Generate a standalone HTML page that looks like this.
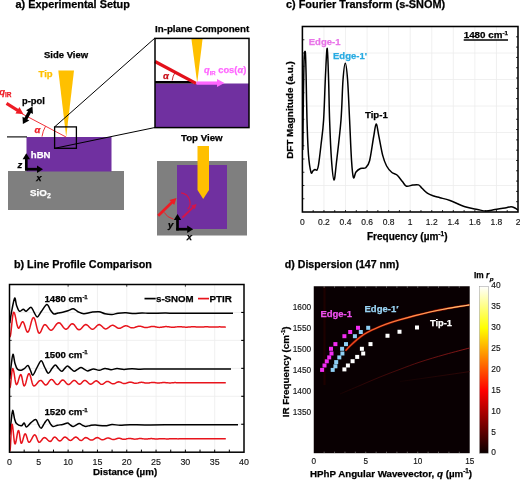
<!DOCTYPE html>
<html lang="en"><head><meta charset="utf-8"><title>Figure</title>
<style>html,body{margin:0;padding:0;background:#fff;}svg{display:block;}</style></head>
<body>
<svg width="520" height="481" viewBox="0 0 520 481" font-family='"Liberation Sans", Arial, sans-serif'>
<rect width="520" height="481" fill="#fff"/>
<defs>
<linearGradient id="hot" x1="0" y1="1" x2="0" y2="0">
<stop offset="0" stop-color="#0a0000"/><stop offset="0.375" stop-color="#ff0000"/><stop offset="0.75" stop-color="#ffff00"/><stop offset="1" stop-color="#ffffff"/>
</linearGradient>
<linearGradient id="disp" x1="345" y1="0" x2="470" y2="0" gradientUnits="userSpaceOnUse">
<stop offset="0" stop-color="#e8401a"/><stop offset="0.5" stop-color="#ff6a28"/><stop offset="1" stop-color="#ff9a3c"/>
</linearGradient>
<linearGradient id="dispcore" x1="345" y1="0" x2="470" y2="0" gradientUnits="userSpaceOnUse">
<stop offset="0" stop-color="#ffd080" stop-opacity="0"/><stop offset="0.35" stop-color="#ffd890" stop-opacity="0.5"/><stop offset="1" stop-color="#fff4c0" stop-opacity="1"/>
</linearGradient>
<linearGradient id="br2" x1="340" y1="0" x2="470" y2="0" gradientUnits="userSpaceOnUse">
<stop offset="0" stop-color="#1a0202"/><stop offset="0.4" stop-color="#4a0a0a"/><stop offset="1" stop-color="#9a1a1a"/>
</linearGradient>
<linearGradient id="br3" x1="400" y1="0" x2="470" y2="0" gradientUnits="userSpaceOnUse">
<stop offset="0" stop-color="#140202"/><stop offset="1" stop-color="#3a0808"/>
</linearGradient>
</defs>
<g id="panel-a">
<text x="15.5" y="8.3" font-size="10.9" font-weight="bold" fill="#000" stroke="#000" stroke-width="0.25" text-anchor="start" >a) Experimental Setup</text>
<text x="44" y="57.5" font-size="9.5" font-weight="bold" fill="#000" stroke="#000" stroke-width="0.25" text-anchor="start" >Side View</text>
<text x="38.6" y="76.6" font-size="9.5" font-weight="bold" fill="#ffc000" stroke="#ffc000" stroke-width="0.25" text-anchor="start" >Tip</text>
<rect x="8" y="171" width="116" height="39" fill="#7f7f7f"/>
<rect x="26.5" y="137" width="85" height="34.5" fill="#7030a0"/>
<line x1="7" y1="136.9" x2="27" y2="136.9" stroke="#000" stroke-width="1.1"/>
<polygon points="58.3,70.5 74,70.5 66.2,137" fill="#ffc000"/>
<line x1="20" y1="112.7" x2="66" y2="137" stroke="#ee1c25" stroke-width="0.9"/>
<line x1="6.50" y1="103.40" x2="18.05" y2="110.58" stroke="#ee1c25" stroke-width="3.1"/>
<polygon points="23.40,113.90 15.45,113.43 19.46,106.98" fill="#ee1c25"/>
<text x="-0.8" y="95.2" font-size="9.5" font-weight="bold" fill="#ee1c25" stroke="#ee1c25" stroke-width="0.25" text-anchor="start" ><tspan font-style="italic">q</tspan><tspan font-size="6.5" dy="2">IR</tspan></text>
<text x="22" y="104" font-size="9.4" font-weight="bold" fill="#000" stroke="#000" stroke-width="0.25" text-anchor="start" >p-pol</text>
<line x1="29.80" y1="111.49" x2="25.60" y2="119.11" stroke="#000" stroke-width="3.3"/>
<polygon points="22.90,124.00 22.48,116.69 29.31,120.46" fill="#000"/>
<polygon points="32.50,106.60 26.09,110.14 32.92,113.91" fill="#000"/>
<text x="34.5" y="132.5" font-size="9.5" font-weight="bold" fill="#ee1c25" stroke="#ee1c25" stroke-width="0.25" text-anchor="start" font-style="italic">α</text>
<path d="M45.5,126.3 Q42.8,131 42,136.6" fill="none" stroke="#ee1c25" stroke-width="0.9"/>
<rect x="54.6" y="126.9" width="21.8" height="21.4" fill="none" stroke="#000" stroke-width="1.3"/>
<line x1="54.6" y1="126.9" x2="155" y2="38" stroke="#000" stroke-width="1"/>
<line x1="54.6" y1="148.3" x2="155" y2="127.5" stroke="#000" stroke-width="1"/>
<text x="30.8" y="158.4" font-size="9.6" font-weight="bold" fill="#fff" stroke="#fff" stroke-width="0.25" text-anchor="start" >hBN</text>
<text x="30" y="196.2" font-size="9.8" font-weight="bold" fill="#fff" stroke="#fff" stroke-width="0.25" text-anchor="start" >SiO<tspan font-size="6.8" dy="2.2">2</tspan></text>
<line x1="26.30" y1="170.50" x2="26.30" y2="158.60" stroke="#000" stroke-width="2.7"/>
<polygon points="26.30,153.20 30.00,159.20 22.60,159.20" fill="#000"/>
<line x1="25.00" y1="169.20" x2="37.60" y2="169.20" stroke="#000" stroke-width="2.7"/>
<polygon points="43.00,169.20 37.00,172.90 37.00,165.50" fill="#000"/>
<text x="17.5" y="167.7" font-size="9.5" font-weight="bold" fill="#000" stroke="#000" stroke-width="0.25" text-anchor="start" font-style="italic">z</text>
<text x="36.2" y="180.6" font-size="9.5" font-weight="bold" fill="#000" stroke="#000" stroke-width="0.25" text-anchor="start" font-style="italic">x</text>
<text x="155" y="32.3" font-size="9.75" font-weight="bold" fill="#000" stroke="#000" stroke-width="0.25" text-anchor="start" >In-plane Component</text>
<rect x="155" y="38" width="94" height="45" fill="#fff"/>
<rect x="155" y="83.5" width="94" height="44" fill="#7030a0"/>
<polygon points="191.3,38 202.7,38 197.2,83" fill="#ffc000"/>
<line x1="155" y1="82.3" x2="193" y2="82.3" stroke="#000" stroke-width="2.6"/>
<line x1="155" y1="61.5" x2="196" y2="83.3" stroke="#e3101b" stroke-width="3.2"/>
<line x1="196.50" y1="83.10" x2="217.75" y2="83.10" stroke="#ff66ff" stroke-width="3.3"/>
<polygon points="224.50,83.10 217.00,87.10 217.00,79.10" fill="#ff66ff"/>
<rect x="155" y="38.4" width="94" height="89.2" fill="none" stroke="#000" stroke-width="1.5"/>
<text x="163" y="78.8" font-size="9.5" font-weight="bold" fill="#c8101a" stroke="#c8101a" stroke-width="0.25" text-anchor="start" font-style="italic">α</text>
<path d="M175.3,72.2 Q172.6,76 172.2,80.5" fill="none" stroke="#c8101a" stroke-width="0.9"/>
<text x="204" y="73.4" font-size="9.3" font-weight="bold" fill="#ff66ff" stroke="#ff66ff" stroke-width="0.25" text-anchor="start" ><tspan font-style="italic">q</tspan><tspan font-size="6" dy="1.5">IR</tspan><tspan dy="-1.5"> cos(</tspan><tspan font-style="italic">α</tspan>)</text>
<text x="181" y="141" font-size="9.7" font-weight="bold" fill="#000" stroke="#000" stroke-width="0.25" text-anchor="start" >Top View</text>
<rect x="157" y="161" width="90" height="74.5" fill="#7f7f7f"/>
<rect x="177" y="165" width="50" height="64" fill="#7030a0"/>
<polygon points="197.5,146 209,146 209,190 203.2,199 197.5,190" fill="#ffc000"/>
<line x1="158.20" y1="215.70" x2="172.30" y2="202.07" stroke="#ee1c25" stroke-width="2.7"/>
<polygon points="176.50,198.00 174.19,204.96 169.46,200.08" fill="#ee1c25"/>
<path d="M164.1,212.3 Q167,217.5 173.5,219.2" fill="none" stroke="#ee1c25" stroke-width="0.9"/>
<line x1="182.30" y1="217.70" x2="193.35" y2="207.11" stroke="#d4144a" stroke-width="1.9"/>
<polygon points="196.60,204.00 194.79,209.34 191.19,205.58" fill="#d4144a"/>
<path d="M181,192.8 Q187.5,193.5 189.6,200 Q191.3,206 187.7,209" fill="none" stroke="#d4144a" stroke-width="1.2"/>
<line x1="177.50" y1="230.50" x2="177.50" y2="219.40" stroke="#000" stroke-width="2.7"/>
<polygon points="177.50,214.00 181.20,220.00 173.80,220.00" fill="#000"/>
<line x1="176.20" y1="229.20" x2="187.80" y2="229.20" stroke="#000" stroke-width="2.7"/>
<polygon points="193.20,229.20 187.20,232.90 187.20,225.50" fill="#000"/>
<text x="168" y="227.6" font-size="9.5" font-weight="bold" fill="#000" stroke="#000" stroke-width="0.25" text-anchor="start" font-style="italic">y</text>
<text x="186.8" y="240.3" font-size="9.5" font-weight="bold" fill="#000" stroke="#000" stroke-width="0.25" text-anchor="start" font-style="italic">x</text>
</g>
<g id="panel-c">
<text x="286" y="8.3" font-size="10.9" font-weight="bold" fill="#000" stroke="#000" stroke-width="0.25" text-anchor="start" >c) Fourier Transform (s-SNOM)</text>
<line x1="323.96" y1="26.5" x2="323.96" y2="212" stroke="#ececec" stroke-width="0.8"/>
<line x1="345.52" y1="26.5" x2="345.52" y2="212" stroke="#ececec" stroke-width="0.8"/>
<line x1="367.08" y1="26.5" x2="367.08" y2="212" stroke="#ececec" stroke-width="0.8"/>
<line x1="388.64" y1="26.5" x2="388.64" y2="212" stroke="#ececec" stroke-width="0.8"/>
<line x1="410.20" y1="26.5" x2="410.20" y2="212" stroke="#ececec" stroke-width="0.8"/>
<line x1="431.76" y1="26.5" x2="431.76" y2="212" stroke="#ececec" stroke-width="0.8"/>
<line x1="453.32" y1="26.5" x2="453.32" y2="212" stroke="#ececec" stroke-width="0.8"/>
<line x1="474.88" y1="26.5" x2="474.88" y2="212" stroke="#ececec" stroke-width="0.8"/>
<line x1="496.44" y1="26.5" x2="496.44" y2="212" stroke="#ececec" stroke-width="0.8"/>
<line x1="302.4" y1="53.00" x2="518" y2="53.00" stroke="#ececec" stroke-width="0.8"/>
<line x1="302.4" y1="79.50" x2="518" y2="79.50" stroke="#ececec" stroke-width="0.8"/>
<line x1="302.4" y1="106.00" x2="518" y2="106.00" stroke="#ececec" stroke-width="0.8"/>
<line x1="302.4" y1="132.50" x2="518" y2="132.50" stroke="#ececec" stroke-width="0.8"/>
<line x1="302.4" y1="159.00" x2="518" y2="159.00" stroke="#ececec" stroke-width="0.8"/>
<line x1="302.4" y1="185.50" x2="518" y2="185.50" stroke="#ececec" stroke-width="0.8"/>
<line x1="313.18" y1="212" x2="313.18" y2="210" stroke="#000" stroke-width="0.8"/>
<line x1="323.96" y1="212" x2="323.96" y2="210" stroke="#000" stroke-width="0.8"/>
<line x1="334.74" y1="212" x2="334.74" y2="210" stroke="#000" stroke-width="0.8"/>
<line x1="345.52" y1="212" x2="345.52" y2="210" stroke="#000" stroke-width="0.8"/>
<line x1="356.30" y1="212" x2="356.30" y2="210" stroke="#000" stroke-width="0.8"/>
<line x1="367.08" y1="212" x2="367.08" y2="210" stroke="#000" stroke-width="0.8"/>
<line x1="377.86" y1="212" x2="377.86" y2="210" stroke="#000" stroke-width="0.8"/>
<line x1="388.64" y1="212" x2="388.64" y2="210" stroke="#000" stroke-width="0.8"/>
<line x1="399.42" y1="212" x2="399.42" y2="210" stroke="#000" stroke-width="0.8"/>
<line x1="410.20" y1="212" x2="410.20" y2="210" stroke="#000" stroke-width="0.8"/>
<line x1="420.98" y1="212" x2="420.98" y2="210" stroke="#000" stroke-width="0.8"/>
<line x1="431.76" y1="212" x2="431.76" y2="210" stroke="#000" stroke-width="0.8"/>
<line x1="442.54" y1="212" x2="442.54" y2="210" stroke="#000" stroke-width="0.8"/>
<line x1="453.32" y1="212" x2="453.32" y2="210" stroke="#000" stroke-width="0.8"/>
<line x1="464.10" y1="212" x2="464.10" y2="210" stroke="#000" stroke-width="0.8"/>
<line x1="474.88" y1="212" x2="474.88" y2="210" stroke="#000" stroke-width="0.8"/>
<line x1="485.66" y1="212" x2="485.66" y2="210" stroke="#000" stroke-width="0.8"/>
<line x1="496.44" y1="212" x2="496.44" y2="210" stroke="#000" stroke-width="0.8"/>
<line x1="507.22" y1="212" x2="507.22" y2="210" stroke="#000" stroke-width="0.8"/>
<line x1="518" y1="36.81" x2="516" y2="36.81" stroke="#000" stroke-width="0.8"/>
<line x1="518" y1="47.11" x2="516" y2="47.11" stroke="#000" stroke-width="0.8"/>
<line x1="518" y1="57.42" x2="516" y2="57.42" stroke="#000" stroke-width="0.8"/>
<line x1="518" y1="67.72" x2="516" y2="67.72" stroke="#000" stroke-width="0.8"/>
<line x1="518" y1="78.03" x2="516" y2="78.03" stroke="#000" stroke-width="0.8"/>
<line x1="518" y1="88.33" x2="516" y2="88.33" stroke="#000" stroke-width="0.8"/>
<line x1="518" y1="98.64" x2="516" y2="98.64" stroke="#000" stroke-width="0.8"/>
<line x1="518" y1="108.94" x2="516" y2="108.94" stroke="#000" stroke-width="0.8"/>
<line x1="518" y1="119.25" x2="516" y2="119.25" stroke="#000" stroke-width="0.8"/>
<line x1="518" y1="129.56" x2="516" y2="129.56" stroke="#000" stroke-width="0.8"/>
<line x1="518" y1="139.86" x2="516" y2="139.86" stroke="#000" stroke-width="0.8"/>
<line x1="518" y1="150.17" x2="516" y2="150.17" stroke="#000" stroke-width="0.8"/>
<line x1="518" y1="160.47" x2="516" y2="160.47" stroke="#000" stroke-width="0.8"/>
<line x1="518" y1="170.78" x2="516" y2="170.78" stroke="#000" stroke-width="0.8"/>
<line x1="518" y1="181.08" x2="516" y2="181.08" stroke="#000" stroke-width="0.8"/>
<line x1="518" y1="191.39" x2="516" y2="191.39" stroke="#000" stroke-width="0.8"/>
<line x1="518" y1="201.69" x2="516" y2="201.69" stroke="#000" stroke-width="0.8"/>
<line x1="302.4" y1="39.75" x2="304.4" y2="39.75" stroke="#000" stroke-width="0.8"/>
<line x1="302.4" y1="53.00" x2="304.4" y2="53.00" stroke="#000" stroke-width="0.8"/>
<line x1="302.4" y1="66.25" x2="304.4" y2="66.25" stroke="#000" stroke-width="0.8"/>
<line x1="302.4" y1="79.50" x2="304.4" y2="79.50" stroke="#000" stroke-width="0.8"/>
<line x1="302.4" y1="92.75" x2="304.4" y2="92.75" stroke="#000" stroke-width="0.8"/>
<line x1="302.4" y1="106.00" x2="304.4" y2="106.00" stroke="#000" stroke-width="0.8"/>
<line x1="302.4" y1="119.25" x2="304.4" y2="119.25" stroke="#000" stroke-width="0.8"/>
<line x1="302.4" y1="132.50" x2="304.4" y2="132.50" stroke="#000" stroke-width="0.8"/>
<line x1="302.4" y1="145.75" x2="304.4" y2="145.75" stroke="#000" stroke-width="0.8"/>
<line x1="302.4" y1="159.00" x2="304.4" y2="159.00" stroke="#000" stroke-width="0.8"/>
<line x1="302.4" y1="172.25" x2="304.4" y2="172.25" stroke="#000" stroke-width="0.8"/>
<line x1="302.4" y1="185.50" x2="304.4" y2="185.50" stroke="#000" stroke-width="0.8"/>
<line x1="302.4" y1="198.75" x2="304.4" y2="198.75" stroke="#000" stroke-width="0.8"/>
<path d="M302.80,150.00C302.90,140.83 303.20,109.67 303.40,95.00C303.60,80.33 303.82,68.97 304.00,62.00C304.18,55.03 304.33,54.93 304.50,53.20C304.67,51.47 304.83,51.38 305.00,51.60C305.17,51.82 305.32,50.60 305.50,54.50C305.68,58.40 305.85,64.08 306.10,75.00C306.35,85.92 306.60,106.67 307.00,120.00C307.40,133.33 307.83,146.28 308.50,155.00C309.17,163.72 310.25,169.67 311.00,172.30C311.75,174.93 312.33,171.27 313.00,170.80C313.67,170.33 314.33,169.63 315.00,169.50C315.67,169.37 316.42,170.75 317.00,170.00C317.58,169.25 317.83,169.17 318.50,165.00C319.17,160.83 320.15,152.50 321.00,145.00C321.85,137.50 322.85,131.67 323.60,120.00C324.35,108.33 324.90,86.93 325.50,75.00C326.10,63.07 326.68,47.57 327.20,48.40C327.72,49.23 328.20,68.07 328.60,80.00C329.00,91.93 329.12,106.67 329.60,120.00C330.08,133.33 330.77,150.00 331.50,160.00C332.23,170.00 333.17,179.67 334.00,180.00C334.83,180.33 335.33,172.00 336.50,162.00C337.67,152.00 339.92,133.67 341.00,120.00C342.08,106.33 342.28,89.47 343.00,80.00C343.72,70.53 344.53,63.20 345.30,63.20C346.07,63.20 346.88,70.53 347.60,80.00C348.32,89.47 348.95,106.67 349.60,120.00C350.25,133.33 350.87,150.42 351.50,160.00C352.13,169.58 352.65,175.50 353.40,177.50C354.15,179.50 354.82,173.50 356.00,172.00C357.18,170.50 358.88,169.22 360.50,168.50C362.12,167.78 364.18,169.00 365.70,167.70C367.22,166.40 368.28,165.82 369.60,160.70C370.92,155.58 372.50,143.12 373.60,137.00C374.70,130.88 375.33,124.20 376.20,124.00C377.07,123.80 377.72,130.57 378.80,135.80C379.88,141.03 381.40,150.37 382.70,155.40C384.00,160.43 385.07,163.15 386.60,166.00C388.13,168.85 390.17,171.00 391.90,172.50C393.63,174.00 395.25,173.48 397.00,175.00C398.75,176.52 400.82,179.73 402.40,181.60C403.98,183.47 404.77,185.63 406.50,186.20C408.23,186.77 410.80,185.22 412.80,185.00C414.80,184.78 416.97,184.37 418.50,184.90C420.03,185.43 420.53,186.82 422.00,188.20C423.47,189.58 425.33,191.90 427.30,193.20C429.27,194.50 431.68,195.25 433.80,196.00C435.92,196.75 437.30,196.95 440.00,197.70C442.70,198.45 445.83,198.99 450.00,200.50C454.17,202.01 460.42,205.25 465.00,206.75C469.58,208.25 474.00,208.79 477.50,209.50C481.00,210.21 483.08,211.00 486.00,211.00C488.92,211.00 491.83,210.00 495.00,209.50C498.17,209.00 502.33,208.46 505.00,208.00C507.67,207.54 509.33,206.75 511.00,206.75C512.67,206.75 513.83,207.46 515.00,208.00C516.17,208.54 517.50,209.67 518.00,210.00" fill="none" stroke="#000" stroke-width="1.5" stroke-linejoin="round"/>
<rect x="302.4" y="26.5" width="215.60000000000002" height="185.5" fill="none" stroke="#000" stroke-width="1.55"/>
<text x="302.40" y="225.2" font-size="8.5" font-weight="normal" fill="#151515" stroke="#151515" stroke-width="0.15" text-anchor="middle" >0</text>
<text x="323.96" y="225.2" font-size="8.5" font-weight="normal" fill="#151515" stroke="#151515" stroke-width="0.15" text-anchor="middle" >0.2</text>
<text x="345.52" y="225.2" font-size="8.5" font-weight="normal" fill="#151515" stroke="#151515" stroke-width="0.15" text-anchor="middle" >0.4</text>
<text x="367.08" y="225.2" font-size="8.5" font-weight="normal" fill="#151515" stroke="#151515" stroke-width="0.15" text-anchor="middle" >0.6</text>
<text x="388.64" y="225.2" font-size="8.5" font-weight="normal" fill="#151515" stroke="#151515" stroke-width="0.15" text-anchor="middle" >0.8</text>
<text x="410.20" y="225.2" font-size="8.5" font-weight="normal" fill="#151515" stroke="#151515" stroke-width="0.15" text-anchor="middle" >1</text>
<text x="431.76" y="225.2" font-size="8.5" font-weight="normal" fill="#151515" stroke="#151515" stroke-width="0.15" text-anchor="middle" >1.2</text>
<text x="453.32" y="225.2" font-size="8.5" font-weight="normal" fill="#151515" stroke="#151515" stroke-width="0.15" text-anchor="middle" >1.4</text>
<text x="474.88" y="225.2" font-size="8.5" font-weight="normal" fill="#151515" stroke="#151515" stroke-width="0.15" text-anchor="middle" >1.6</text>
<text x="496.44" y="225.2" font-size="8.5" font-weight="normal" fill="#151515" stroke="#151515" stroke-width="0.15" text-anchor="middle" >1.8</text>
<text x="518.00" y="225.2" font-size="8.5" font-weight="normal" fill="#151515" stroke="#151515" stroke-width="0.15" text-anchor="middle" >2</text>
<text x="367" y="239.8" font-size="10" font-weight="bold" fill="#000" stroke="#000" stroke-width="0.25" text-anchor="start" >Frequency (µm<tspan font-size="6.5" dy="-3.5">-1</tspan><tspan dy="3.5">)</tspan></text>
<text transform="translate(293,110) rotate(-90)" font-size="9.9" font-weight="bold" stroke="#000" stroke-width="0.25" text-anchor="middle">DFT Magnitude (a.u.)</text>
<text x="308.75" y="45.2" font-size="9.5" font-weight="bold" fill="#e873e8" stroke="#e873e8" stroke-width="0.25" text-anchor="start" >Edge-1</text>
<text x="333" y="58.5" font-size="9.5" font-weight="bold" fill="#29abe2" stroke="#29abe2" stroke-width="0.25" text-anchor="start" >Edge-1'</text>
<text x="365" y="118" font-size="9.6" font-weight="bold" fill="#000" stroke="#000" stroke-width="0.25" text-anchor="start" >Tip-1</text>
<text x="463.7" y="38" font-size="9.8" font-weight="bold" fill="#000" stroke="#000" stroke-width="0.25" text-anchor="start" >1480 cm<tspan font-size="6.2" dy="-3.3">-1</tspan></text>
<line x1="463.7" y1="40" x2="508" y2="40" stroke="#000" stroke-width="1.3"/>
</g>
<g id="panel-b">
<text x="13.9" y="267.8" font-size="10.8" font-weight="bold" fill="#000" stroke="#000" stroke-width="0.25" text-anchor="start" >b) Line Profile Comparison</text>
<line x1="38.81" y1="284.5" x2="38.81" y2="452.2" stroke="#ececec" stroke-width="0.8"/>
<line x1="68.12" y1="284.5" x2="68.12" y2="452.2" stroke="#ececec" stroke-width="0.8"/>
<line x1="97.44" y1="284.5" x2="97.44" y2="452.2" stroke="#ececec" stroke-width="0.8"/>
<line x1="126.75" y1="284.5" x2="126.75" y2="452.2" stroke="#ececec" stroke-width="0.8"/>
<line x1="156.06" y1="284.5" x2="156.06" y2="452.2" stroke="#ececec" stroke-width="0.8"/>
<line x1="185.38" y1="284.5" x2="185.38" y2="452.2" stroke="#ececec" stroke-width="0.8"/>
<line x1="214.69" y1="284.5" x2="214.69" y2="452.2" stroke="#ececec" stroke-width="0.8"/>
<line x1="9.5" y1="312.45" x2="244" y2="312.45" stroke="#ececec" stroke-width="0.8"/>
<line x1="9.5" y1="340.40" x2="244" y2="340.40" stroke="#ececec" stroke-width="0.8"/>
<line x1="9.5" y1="368.35" x2="244" y2="368.35" stroke="#ececec" stroke-width="0.8"/>
<line x1="9.5" y1="396.30" x2="244" y2="396.30" stroke="#ececec" stroke-width="0.8"/>
<line x1="9.5" y1="424.25" x2="244" y2="424.25" stroke="#ececec" stroke-width="0.8"/>
<line x1="24.16" y1="452.2" x2="24.16" y2="449.59999999999997" stroke="#000" stroke-width="1"/>
<line x1="38.81" y1="452.2" x2="38.81" y2="449.59999999999997" stroke="#000" stroke-width="1"/>
<line x1="53.47" y1="452.2" x2="53.47" y2="449.59999999999997" stroke="#000" stroke-width="1"/>
<line x1="68.12" y1="452.2" x2="68.12" y2="449.59999999999997" stroke="#000" stroke-width="1"/>
<line x1="82.78" y1="452.2" x2="82.78" y2="449.59999999999997" stroke="#000" stroke-width="1"/>
<line x1="97.44" y1="452.2" x2="97.44" y2="449.59999999999997" stroke="#000" stroke-width="1"/>
<line x1="112.09" y1="452.2" x2="112.09" y2="449.59999999999997" stroke="#000" stroke-width="1"/>
<line x1="126.75" y1="452.2" x2="126.75" y2="449.59999999999997" stroke="#000" stroke-width="1"/>
<line x1="141.41" y1="452.2" x2="141.41" y2="449.59999999999997" stroke="#000" stroke-width="1"/>
<line x1="156.06" y1="452.2" x2="156.06" y2="449.59999999999997" stroke="#000" stroke-width="1"/>
<line x1="170.72" y1="452.2" x2="170.72" y2="449.59999999999997" stroke="#000" stroke-width="1"/>
<line x1="185.38" y1="452.2" x2="185.38" y2="449.59999999999997" stroke="#000" stroke-width="1"/>
<line x1="200.03" y1="452.2" x2="200.03" y2="449.59999999999997" stroke="#000" stroke-width="1"/>
<line x1="214.69" y1="452.2" x2="214.69" y2="449.59999999999997" stroke="#000" stroke-width="1"/>
<line x1="229.34" y1="452.2" x2="229.34" y2="449.59999999999997" stroke="#000" stroke-width="1"/>
<line x1="68.12" y1="284.5" x2="68.12" y2="286.7" stroke="#000" stroke-width="0.8"/>
<line x1="126.75" y1="284.5" x2="126.75" y2="286.7" stroke="#000" stroke-width="0.8"/>
<line x1="185.38" y1="284.5" x2="185.38" y2="286.7" stroke="#000" stroke-width="0.8"/>
<line x1="244" y1="312.45" x2="241.2" y2="312.45" stroke="#000" stroke-width="1.1"/>
<line x1="244" y1="340.40" x2="241.2" y2="340.40" stroke="#000" stroke-width="1.1"/>
<line x1="244" y1="368.35" x2="241.2" y2="368.35" stroke="#000" stroke-width="1.1"/>
<line x1="244" y1="396.30" x2="241.2" y2="396.30" stroke="#000" stroke-width="1.1"/>
<line x1="244" y1="424.25" x2="241.2" y2="424.25" stroke="#000" stroke-width="1.1"/>
<line x1="9.5" y1="340.40" x2="11.7" y2="340.40" stroke="#000" stroke-width="0.8"/>
<line x1="9.5" y1="396.30" x2="11.7" y2="396.30" stroke="#000" stroke-width="0.8"/>
<path transform="translate(0,0.2)" d="M9.80,323.00C10.08,321.17 10.70,316.17 11.50,312.00C12.30,307.83 13.77,299.17 14.60,298.00C15.43,296.83 15.70,302.83 16.50,305.00C17.30,307.17 18.27,310.33 19.40,311.00C20.53,311.67 22.17,309.00 23.30,309.00C24.43,309.00 24.92,311.33 26.20,311.00C27.48,310.67 29.70,306.83 31.00,307.00C32.30,307.17 32.95,310.38 34.00,312.00C35.05,313.62 36.05,316.87 37.30,316.70C38.55,316.53 39.90,313.08 41.50,311.00C43.10,308.92 45.40,304.37 46.90,304.20C48.40,304.03 49.32,308.40 50.50,310.00C51.68,311.60 52.75,313.33 54.00,313.80C55.25,314.27 56.55,313.10 58.00,312.80C59.45,312.50 61.03,312.38 62.70,312.00C64.37,311.62 66.23,311.08 68.00,310.50C69.77,309.92 71.63,308.33 73.30,308.50C74.97,308.67 76.25,310.67 78.00,311.50C79.75,312.33 81.55,313.42 83.80,313.50C86.05,313.58 88.97,312.33 91.50,312.00C94.03,311.67 96.75,311.23 99.00,311.50C101.25,311.77 102.83,313.13 105.00,313.60C107.17,314.07 109.83,314.40 112.00,314.30C114.17,314.20 115.67,313.28 118.00,313.00C120.33,312.72 123.33,312.55 126.00,312.60C128.67,312.65 131.33,313.27 134.00,313.30C136.67,313.33 139.33,312.83 142.00,312.80C144.67,312.77 146.17,313.08 150.00,313.10C153.83,313.12 160.00,312.92 165.00,312.90C170.00,312.88 168.67,312.98 180.00,313.00C191.33,313.02 224.17,313.00 233.00,313.00" fill="none" stroke="#000" stroke-width="1.5" stroke-linejoin="round" stroke-linecap="butt"/>
<path transform="translate(0,0.2)" d="M9.80,337.00L10.29,336.05L10.78,333.34L11.26,329.28L11.75,324.50L12.24,319.72L12.72,315.66L13.21,312.95L13.70,312.00L14.30,312.61L14.90,314.34L15.50,316.94L16.10,320.00L16.70,323.06L17.30,325.66L17.90,327.39L18.50,328.00L19.02,327.75L19.55,327.05L20.07,325.99L20.60,324.75L21.12,323.51L21.65,322.45L22.18,321.75L22.70,321.50L23.32,321.90L23.95,323.04L24.57,324.74L25.20,326.75L25.82,328.76L26.45,330.46L27.07,331.60L27.70,332.00L28.43,331.44L29.15,329.85L29.88,327.46L30.60,324.65L31.32,321.84L32.05,319.45L32.77,317.86L33.50,317.30L34.21,317.90L34.92,319.60L35.64,322.15L36.35,325.15L37.06,328.15L37.78,330.70L38.49,332.40L39.20,333.00L39.90,332.67L40.60,331.74L41.30,330.35L42.00,328.70L42.70,327.05L43.40,325.66L44.10,324.73L44.80,324.40L45.57,324.61L46.35,325.22L47.12,326.13L47.90,327.20L48.67,328.27L49.45,329.18L50.23,329.79L51.00,330.00L51.98,329.71L52.95,328.90L53.92,327.69L54.90,326.25L55.88,324.81L56.85,323.60L57.82,322.79L58.80,322.50L59.70,322.75L60.60,323.45L61.50,324.51L62.40,325.75L63.30,326.99L64.20,328.05L65.10,328.75L66.00,329.00L66.79,328.79L67.58,328.19L68.36,327.30L69.15,326.25L69.94,325.20L70.72,324.31L71.51,323.71L72.30,323.50L73.14,323.73L73.97,324.39L74.81,325.38L75.65,326.55L76.49,327.72L77.33,328.71L78.16,329.37L79.00,329.60L79.85,329.40L80.70,328.84L81.55,327.99L82.40,327.00L83.25,326.01L84.10,325.16L84.95,324.60L85.80,324.40L86.64,324.58L87.47,325.07L88.31,325.82L89.15,326.70L89.99,327.58L90.83,328.33L91.66,328.82L92.50,329.00L93.34,328.82L94.17,328.33L95.01,327.58L95.85,326.70L96.69,325.82L97.53,325.07L98.36,324.58L99.20,324.40L100.00,324.61L100.80,325.11L101.60,325.80L102.40,326.60L103.20,327.38L104.00,328.04L104.80,328.50L105.60,328.70L106.40,328.62L107.20,328.29L108.00,327.77L108.80,327.13L109.60,326.46L110.40,325.87L111.20,325.42L112.00,325.17L112.80,325.15L113.60,325.34L114.40,325.73L115.20,326.23L116.00,326.78L116.80,327.31L117.60,327.73L118.40,328.01L119.20,328.10L120.00,328.00L120.80,327.73L121.60,327.35L122.40,326.89L123.20,326.44L124.00,326.05L124.80,325.77L125.60,325.64L126.40,325.67L127.20,325.84L128.00,326.13L128.80,326.49L129.60,326.87L130.40,327.22L131.20,327.49L132.00,327.64L132.80,327.67L133.60,327.57L134.40,327.37L135.20,327.09L136.00,326.77L136.80,326.47L137.60,326.21L138.40,326.04L139.20,325.98L140.00,326.02L140.80,326.16L141.60,326.38L142.40,326.63L143.20,326.89L144.00,327.12L144.80,327.29L145.60,327.38L146.40,327.38L147.20,327.29L148.00,327.13L148.80,326.93L149.60,326.71L150.40,326.51L151.20,326.34L152.00,326.25L152.80,326.22L153.60,326.27L154.40,326.38L155.20,326.54L156.00,326.72L156.80,326.89L157.60,327.04L158.40,327.14L159.20,327.19L160.00,327.17L160.80,327.10L161.60,326.98L162.40,326.84L163.20,326.69L164.00,326.55L164.80,326.45L165.60,326.39L166.40,326.39L167.20,326.43L168.00,326.52L168.80,326.63L169.60,326.76L170.40,326.88L171.20,326.97L172.00,327.03L172.80,327.05L173.60,327.03L174.40,326.97L175.20,326.88L176.00,326.78L176.80,326.68L177.60,326.59L178.40,326.53L179.20,326.50L180.00,326.51L180.80,326.54L181.60,326.61L182.40,326.69L183.20,326.78L184.00,326.86L184.80,326.92L185.60,326.95L186.40,326.96L187.20,326.94L188.00,326.89L188.80,326.83L189.60,326.75L190.40,326.69L191.20,326.63L192.00,326.59L192.80,326.58L193.60,326.59L194.40,326.62L195.20,326.67L196.00,326.72L196.80,326.78L197.60,326.83L198.40,326.87L199.20,326.89L200.00,326.89L200.80,326.87L201.60,326.84L202.40,326.79L203.20,326.74L204.00,326.69L204.80,326.66L205.60,326.64L206.40,326.63L207.20,326.64L208.00,326.67L208.80,326.70L209.60,326.74L210.40,326.78L211.20,326.82L212.00,326.84L212.80,326.85L213.60,326.85L214.40,326.83L215.20,326.80L216.00,326.77L216.80,326.74L217.60,326.70L218.40,326.68L219.20,326.67L220.00,326.67L220.80,326.68L221.60,326.70L222.40,326.72L223.20,326.75L224.00,326.78L224.80,326.80L225.60,326.81L225.80,326.75" fill="none" stroke="#e8141c" stroke-width="1.5" stroke-linejoin="round" stroke-linecap="butt"/>
<path transform="translate(0,0.5)" d="M9.80,378.50C10.05,376.08 10.77,368.12 11.30,364.00C11.83,359.88 12.38,353.97 13.00,353.80C13.62,353.63 14.25,360.50 15.00,363.00C15.75,365.50 16.45,367.67 17.50,368.80C18.55,369.93 20.13,369.93 21.30,369.80C22.47,369.67 23.38,368.80 24.50,368.00C25.62,367.20 27.00,364.67 28.00,365.00C29.00,365.33 29.68,368.40 30.50,370.00C31.32,371.60 31.82,375.10 32.90,374.60C33.98,374.10 35.62,369.40 37.00,367.00C38.38,364.60 39.90,360.20 41.20,360.20C42.50,360.20 43.62,364.92 44.80,367.00C45.98,369.08 47.10,372.53 48.30,372.70C49.50,372.87 50.82,369.35 52.00,368.00C53.18,366.65 54.32,364.60 55.40,364.60C56.48,364.60 57.45,366.97 58.50,368.00C59.55,369.03 60.68,370.80 61.70,370.80C62.72,370.80 63.63,368.90 64.60,368.00C65.57,367.10 66.43,365.35 67.50,365.40C68.57,365.45 69.88,367.40 71.00,368.30C72.12,369.20 73.10,370.72 74.20,370.80C75.30,370.88 76.47,369.43 77.60,368.80C78.73,368.17 79.85,367.00 81.00,367.00C82.15,367.00 83.38,368.23 84.50,368.80C85.62,369.37 86.20,370.45 87.70,370.40C89.20,370.35 91.58,368.60 93.50,368.50C95.42,368.40 97.28,369.90 99.20,369.80C101.12,369.70 103.03,368.00 105.00,367.90C106.97,367.80 109.00,369.18 111.00,369.20C113.00,369.22 114.83,368.05 117.00,368.00C119.17,367.95 121.50,368.87 124.00,368.90C126.50,368.93 129.33,368.23 132.00,368.20C134.67,368.17 137.00,368.67 140.00,368.70C143.00,368.73 145.00,368.43 150.00,368.40C155.00,368.37 156.50,368.48 170.00,368.50C183.50,368.52 220.83,368.50 231.00,368.50" fill="none" stroke="#000" stroke-width="1.5" stroke-linejoin="round" stroke-linecap="butt"/>
<path transform="translate(0,0)" d="M9.80,388.00L10.16,387.26L10.53,385.14L10.89,381.98L11.25,378.25L11.61,374.52L11.97,371.36L12.34,369.24L12.70,368.50L13.17,369.11L13.65,370.86L14.12,373.47L14.60,376.55L15.07,379.63L15.55,382.24L16.02,383.99L16.50,384.60L17.04,384.22L17.57,383.14L18.11,381.51L18.65,379.60L19.19,377.69L19.73,376.06L20.26,374.98L20.80,374.60L21.23,375.03L21.65,376.27L22.07,378.12L22.50,380.30L22.93,382.48L23.35,384.33L23.77,385.57L24.20,386.00L24.80,385.53L25.40,384.20L26.00,382.20L26.60,379.85L27.20,377.50L27.80,375.50L28.40,374.17L29.00,373.70L29.60,374.17L30.20,375.50L30.80,377.50L31.40,379.85L32.00,382.20L32.60,384.20L33.20,385.53L33.80,386.00L34.65,385.79L35.50,385.18L36.35,384.27L37.20,383.20L38.05,382.13L38.90,381.22L39.75,380.61L40.60,380.40L41.25,380.58L41.90,381.07L42.55,381.82L43.20,382.70L43.85,383.58L44.50,384.33L45.15,384.82L45.80,385.00L46.51,384.79L47.22,384.18L47.94,383.27L48.65,382.20L49.36,381.13L50.08,380.22L50.79,379.61L51.50,379.40L52.23,379.60L52.95,380.16L53.67,381.01L54.40,382.00L55.12,382.99L55.85,383.84L56.57,384.40L57.30,384.60L57.97,384.42L58.65,383.93L59.33,383.18L60.00,382.30L60.67,381.42L61.35,380.67L62.03,380.18L62.70,380.00L63.43,380.18L64.15,380.67L64.88,381.42L65.60,382.30L66.33,383.18L67.05,383.93L67.78,384.42L68.50,384.60L69.21,384.44L69.92,383.98L70.64,383.30L71.35,382.50L72.06,381.70L72.78,381.02L73.49,380.56L74.20,380.40L74.88,380.54L75.55,380.96L76.22,381.57L76.90,382.30L77.58,383.03L78.25,383.64L78.92,384.06L79.60,384.20L80.25,384.06L80.90,383.64L81.55,383.03L82.20,382.30L82.85,381.57L83.50,380.96L84.15,380.54L84.80,380.40L85.52,380.54L86.25,380.96L86.97,381.57L87.70,382.30L88.42,383.03L89.15,383.64L89.88,384.06L90.60,384.20L91.31,384.07L92.02,383.70L92.74,383.15L93.45,382.50L94.16,381.85L94.88,381.30L95.59,380.93L96.30,380.80L97.10,381.04L97.90,381.59L98.70,382.33L99.50,383.11L100.30,383.79L101.10,384.23L101.90,384.37L102.70,384.19L103.50,383.75L104.30,383.14L105.10,382.49L105.90,381.92L106.70,381.54L107.50,381.41L108.30,381.54L109.10,381.89L109.90,382.39L110.70,382.93L111.50,383.41L112.30,383.74L113.10,383.86L113.90,383.76L114.70,383.48L115.50,383.07L116.30,382.63L117.10,382.22L117.90,381.94L118.70,381.83L119.50,381.90L120.30,382.13L121.10,382.46L121.90,382.83L122.70,383.17L123.50,383.41L124.30,383.51L125.10,383.46L125.90,383.28L126.70,383.01L127.50,382.70L128.30,382.42L129.10,382.22L129.90,382.12L130.70,382.15L131.50,382.30L132.30,382.52L133.10,382.77L133.90,383.01L134.70,383.19L135.50,383.27L136.30,383.25L137.10,383.13L137.90,382.95L138.70,382.74L139.50,382.55L140.30,382.40L141.10,382.32L141.90,382.33L142.70,382.42L143.50,382.57L144.30,382.74L145.10,382.91L145.90,383.04L146.70,383.10L147.50,383.10L148.30,383.03L149.10,382.91L149.90,382.76L150.70,382.63L151.50,382.52L152.30,382.46L153.10,382.46L153.90,382.52L154.70,382.61L155.50,382.73L156.30,382.85L157.10,382.94L157.90,382.99L158.70,382.99L159.50,382.95L160.30,382.87L161.10,382.77L161.90,382.68L162.70,382.60L163.50,382.55L164.30,382.55L165.10,382.58L165.90,382.65L166.70,382.73L167.50,382.81L168.30,382.87L169.10,382.91L169.90,382.92L170.70,382.89L171.50,382.84L172.30,382.77L173.10,382.71L173.90,382.65L174.70,382.62L175.50,382.61L176.30,382.63L177.10,382.67L177.90,382.73L178.70,382.78L179.50,382.83L180.30,382.86L181.10,382.87L181.90,382.85L182.70,382.82L183.50,382.77L184.30,382.73L185.10,382.69L185.90,382.66L186.70,382.65L187.50,382.67L188.30,382.69L189.10,382.73L189.90,382.77L190.70,382.80L191.50,382.82L192.30,382.83L193.10,382.82L193.90,382.80L194.70,382.77L195.50,382.74L196.30,382.71L197.10,382.69L197.90,382.68L198.70,382.69L199.50,382.71L200.30,382.73L201.10,382.76L201.90,382.78L202.70,382.80L203.50,382.80L204.30,382.80L205.10,382.79L205.90,382.77L206.70,382.74L207.50,382.72L208.30,382.71L209.10,382.70L209.90,382.71L210.70,382.72L211.50,382.74L212.30,382.75L213.10,382.77L213.90,382.78L214.70,382.79L215.50,382.78L216.30,382.78L217.10,382.76L217.90,382.75L218.70,382.73L219.50,382.72L220.30,382.72L221.10,382.72L221.90,382.73L222.70,382.74L223.50,382.75L224.30,382.76L225.10,382.77L225.80,382.75" fill="none" stroke="#e8141c" stroke-width="1.5" stroke-linejoin="round" stroke-linecap="butt"/>
<path transform="translate(0,0.6)" d="M9.80,434.00C10.03,431.67 10.72,424.03 11.20,420.00C11.68,415.97 12.15,410.13 12.70,409.80C13.25,409.47 13.87,415.80 14.50,418.00C15.13,420.20 15.37,421.80 16.50,423.00C17.63,424.20 20.02,425.28 21.30,425.20C22.58,425.12 23.33,422.30 24.20,422.50C25.07,422.70 25.37,426.48 26.50,426.40C27.63,426.32 29.45,423.23 31.00,422.00C32.55,420.77 34.55,418.67 35.80,419.00C37.05,419.33 37.60,422.55 38.50,424.00C39.40,425.45 40.20,427.95 41.20,427.70C42.20,427.45 43.42,423.95 44.50,422.50C45.58,421.05 46.73,418.92 47.70,419.00C48.67,419.08 49.42,421.87 50.30,423.00C51.18,424.13 51.80,425.53 53.00,425.80C54.20,426.07 55.88,424.92 57.50,424.60C59.12,424.28 61.03,424.25 62.70,423.90C64.37,423.55 66.22,422.42 67.50,422.50C68.78,422.58 69.43,423.85 70.40,424.40C71.37,424.95 71.87,426.03 73.30,425.80C74.73,425.57 77.48,423.20 79.00,423.00C80.52,422.80 81.27,424.13 82.40,424.60C83.53,425.07 84.45,425.77 85.80,425.80C87.15,425.83 88.90,425.02 90.50,424.80C92.10,424.58 92.98,424.43 95.40,424.50C97.82,424.57 102.23,425.28 105.00,425.20C107.77,425.12 109.50,424.10 112.00,424.00C114.50,423.90 117.00,424.58 120.00,424.60C123.00,424.62 125.83,424.13 130.00,424.10C134.17,424.07 139.17,424.38 145.00,424.40C150.83,424.42 149.50,424.23 165.00,424.20C180.50,424.17 225.83,424.20 238.00,424.20" fill="none" stroke="#000" stroke-width="1.5" stroke-linejoin="round" stroke-linecap="butt"/>
<path transform="translate(0,0.3)" d="M9.80,451.00L10.08,449.97L10.35,447.03L10.62,442.64L10.90,437.45L11.18,432.26L11.45,427.87L11.72,424.93L12.00,423.90L12.38,424.65L12.75,426.80L13.12,430.01L13.50,433.80L13.88,437.59L14.25,440.80L14.62,442.95L15.00,443.70L15.44,443.19L15.88,441.72L16.31,439.53L16.75,436.95L17.19,434.37L17.62,432.18L18.06,430.71L18.50,430.20L18.85,430.69L19.20,432.07L19.55,434.15L19.90,436.60L20.25,439.05L20.60,441.13L20.95,442.51L21.30,443.00L21.79,442.64L22.27,441.61L22.76,440.07L23.25,438.25L23.74,436.43L24.23,434.89L24.71,433.86L25.20,433.50L25.68,433.82L26.15,434.74L26.62,436.12L27.10,437.75L27.57,439.38L28.05,440.76L28.52,441.68L29.00,442.00L29.73,441.71L30.45,440.90L31.17,439.69L31.90,438.25L32.62,436.81L33.35,435.60L34.07,434.79L34.80,434.50L35.35,434.79L35.90,435.60L36.45,436.81L37.00,438.25L37.55,439.69L38.10,440.90L38.65,441.71L39.20,442.00L39.85,441.82L40.50,441.31L41.15,440.55L41.80,439.65L42.45,438.75L43.10,437.99L43.75,437.48L44.40,437.30L45.12,437.45L45.85,437.87L46.58,438.50L47.30,439.25L48.02,440.00L48.75,440.63L49.48,441.05L50.20,441.20L50.75,441.03L51.30,440.56L51.85,439.84L52.40,439.00L52.95,438.16L53.50,437.44L54.05,436.97L54.60,436.80L55.25,436.94L55.90,437.36L56.55,437.97L57.20,438.70L57.85,439.43L58.50,440.04L59.15,440.46L59.80,440.60L60.45,440.46L61.10,440.04L61.75,439.43L62.40,438.70L63.05,437.97L63.70,437.36L64.35,436.94L65.00,436.80L65.67,436.93L66.35,437.30L67.03,437.85L67.70,438.50L68.38,439.15L69.05,439.70L69.73,440.07L70.40,440.20L71.08,440.07L71.75,439.70L72.42,439.15L73.10,438.50L73.78,437.85L74.45,437.30L75.12,436.93L75.80,436.80L76.45,436.93L77.10,437.30L77.75,437.85L78.40,438.50L79.05,439.15L79.70,439.70L80.35,440.07L81.00,440.20L81.60,440.09L82.20,439.78L82.80,439.30L83.40,438.75L84.00,438.20L84.60,437.72L85.20,437.41L85.80,437.30L86.51,437.40L87.22,437.67L87.94,438.07L88.65,438.55L89.36,439.03L90.08,439.43L90.79,439.70L91.50,439.80L92.22,439.70L92.95,439.43L93.67,439.03L94.40,438.55L95.12,438.07L95.85,437.67L96.58,437.40L97.30,437.30L98.10,437.46L98.90,437.82L99.70,438.31L100.50,438.81L101.30,439.22L102.10,439.46L102.90,439.49L103.70,439.31L104.50,438.97L105.30,438.55L106.10,438.15L106.90,437.83L107.70,437.67L108.50,437.70L109.30,437.88L110.10,438.19L110.90,438.54L111.70,438.87L112.50,439.10L113.30,439.20L114.10,439.14L114.90,438.96L115.70,438.69L116.50,438.39L117.30,438.13L118.10,437.96L118.90,437.92L119.70,437.99L120.50,438.17L121.30,438.41L122.10,438.65L122.90,438.85L123.70,438.97L124.50,438.98L125.30,438.89L126.10,438.73L126.90,438.53L127.70,438.33L128.50,438.18L129.30,438.10L130.10,438.11L130.90,438.20L131.70,438.35L132.50,438.52L133.30,438.68L134.10,438.79L134.90,438.84L135.70,438.81L136.50,438.72L137.30,438.59L138.10,438.45L138.90,438.32L139.70,438.24L140.50,438.22L141.30,438.25L142.10,438.34L142.90,438.45L143.70,438.57L144.50,438.67L145.30,438.73L146.10,438.73L146.90,438.69L147.70,438.61L148.50,438.51L149.30,438.42L150.10,438.34L150.90,438.30L151.70,438.31L152.50,438.35L153.30,438.43L154.10,438.51L154.90,438.59L155.70,438.64L156.50,438.67L157.30,438.65L158.10,438.61L158.90,438.54L159.70,438.47L160.50,438.41L161.30,438.37L162.10,438.36L162.90,438.38L163.70,438.42L164.50,438.48L165.30,438.54L166.10,438.58L166.90,438.61L167.70,438.61L168.50,438.59L169.30,438.55L170.10,438.51L170.90,438.46L171.70,438.42L172.50,438.40L173.30,438.41L174.10,438.43L174.90,438.46L175.70,438.51L176.50,438.54L177.30,438.57L178.10,438.58L178.90,438.57L179.70,438.55L180.50,438.52L181.30,438.49L182.10,438.46L182.90,438.44L183.70,438.43L184.50,438.44L185.30,438.46L186.10,438.49L186.90,438.52L187.70,438.54L188.50,438.55L189.30,438.56L190.10,438.55L190.90,438.53L191.70,438.50L192.50,438.48L193.30,438.46L194.10,438.45L194.90,438.45L195.70,438.47L196.50,438.48L197.30,438.50L198.10,438.52L198.90,438.53L199.70,438.54L200.50,438.54L201.30,438.53L202.10,438.51L202.90,438.49L203.70,438.48L204.50,438.47L205.30,438.47L206.10,438.47L206.90,438.48L207.70,438.49L208.50,438.51L209.30,438.52L210.10,438.53L210.90,438.53L211.70,438.52L212.50,438.51L213.30,438.50L214.10,438.49L214.90,438.48L215.70,438.48L216.50,438.48L217.30,438.48L218.10,438.49L218.90,438.50L219.70,438.51L220.50,438.52L221.30,438.52L222.10,438.52L222.90,438.51L223.70,438.51L224.50,438.50L225.30,438.49L225.80,438.50" fill="none" stroke="#e8141c" stroke-width="1.5" stroke-linejoin="round" stroke-linecap="butt"/>
<rect x="9.5" y="284.5" width="234.5" height="167.7" fill="none" stroke="#000" stroke-width="1.5"/>
<text x="9.50" y="465.3" font-size="8.9" font-weight="normal" fill="#151515" stroke="#151515" stroke-width="0.15" text-anchor="middle" >0</text>
<text x="38.81" y="465.3" font-size="8.9" font-weight="normal" fill="#151515" stroke="#151515" stroke-width="0.15" text-anchor="middle" >5</text>
<text x="68.12" y="465.3" font-size="8.9" font-weight="normal" fill="#151515" stroke="#151515" stroke-width="0.15" text-anchor="middle" >10</text>
<text x="97.44" y="465.3" font-size="8.9" font-weight="normal" fill="#151515" stroke="#151515" stroke-width="0.15" text-anchor="middle" >15</text>
<text x="126.75" y="465.3" font-size="8.9" font-weight="normal" fill="#151515" stroke="#151515" stroke-width="0.15" text-anchor="middle" >20</text>
<text x="156.06" y="465.3" font-size="8.9" font-weight="normal" fill="#151515" stroke="#151515" stroke-width="0.15" text-anchor="middle" >25</text>
<text x="185.38" y="465.3" font-size="8.9" font-weight="normal" fill="#151515" stroke="#151515" stroke-width="0.15" text-anchor="middle" >30</text>
<text x="214.69" y="465.3" font-size="8.9" font-weight="normal" fill="#151515" stroke="#151515" stroke-width="0.15" text-anchor="middle" >35</text>
<text x="244.00" y="465.3" font-size="8.9" font-weight="normal" fill="#151515" stroke="#151515" stroke-width="0.15" text-anchor="middle" >40</text>
<text x="93" y="475.1" font-size="9.75" font-weight="bold" fill="#000" stroke="#000" stroke-width="0.25" text-anchor="start" >Distance (µm)</text>
<text x="44.5" y="302" font-size="9.6" font-weight="bold" fill="#000" stroke="#000" stroke-width="0.25" text-anchor="start" >1480 cm<tspan font-size="6" dy="-3.5">-1</tspan></text>
<text x="44.5" y="357.8" font-size="9.6" font-weight="bold" fill="#000" stroke="#000" stroke-width="0.25" text-anchor="start" >1500 cm<tspan font-size="6" dy="-3.5">-1</tspan></text>
<text x="44.5" y="415.2" font-size="9.6" font-weight="bold" fill="#000" stroke="#000" stroke-width="0.25" text-anchor="start" >1520 cm<tspan font-size="6" dy="-3.5">-1</tspan></text>
<line x1="144.5" y1="298.6" x2="155.7" y2="298.6" stroke="#000" stroke-width="1.7"/>
<text x="156" y="301.6" font-size="9.7" font-weight="bold" fill="#000" stroke="#000" stroke-width="0.25" text-anchor="start" >s-SNOM</text>
<line x1="198" y1="298.6" x2="209" y2="298.6" stroke="#e8141c" stroke-width="1.7"/>
<text x="209.5" y="301.6" font-size="9.8" font-weight="bold" fill="#000" stroke="#000" stroke-width="0.25" text-anchor="start" >PTIR</text>
</g>
<g id="panel-d">
<text x="284.8" y="267.8" font-size="10.6" font-weight="bold" fill="#000" stroke="#000" stroke-width="0.25" text-anchor="start" >d) Dispersion (147 nm)</text>
<rect x="313.75" y="286.25" width="155.95" height="166.95" fill="#090002"/>
<line x1="324.5" y1="287" x2="324.5" y2="385" stroke="#1d0000" stroke-width="2.2"/>
<path d="M340.00,394.00C343.33,392.58 353.33,388.33 360.00,385.50C366.67,382.67 373.33,379.70 380.00,377.00C386.67,374.30 393.33,371.80 400.00,369.30C406.67,366.80 412.50,364.47 420.00,362.00C427.50,359.53 436.75,356.83 445.00,354.50C453.25,352.17 465.42,349.08 469.50,348.00" fill="none" stroke="url(#br2)" stroke-width="0.9"/>
<path d="M400,381.5 Q440,376 469.5,371.6" fill="none" stroke="url(#br3)" stroke-width="0.8"/>
<path d="M345.50,350.70C346.25,349.92 348.25,347.70 350.00,346.00C351.75,344.30 353.83,342.33 356.00,340.50C358.17,338.67 360.33,336.75 363.00,335.00C365.67,333.25 368.83,331.55 372.00,330.00C375.17,328.45 379.00,326.90 382.00,325.70C385.00,324.50 387.00,323.80 390.00,322.80C393.00,321.80 395.83,320.90 400.00,319.70C404.17,318.50 410.00,316.88 415.00,315.60C420.00,314.32 425.00,313.10 430.00,312.00C435.00,310.90 440.00,309.93 445.00,309.00C450.00,308.07 455.92,307.08 460.00,306.40C464.08,305.72 467.92,305.15 469.50,304.90" fill="none" stroke="#a81400" stroke-width="2.3" opacity="0.75"/>
<path d="M345.50,350.70C346.25,349.92 348.25,347.70 350.00,346.00C351.75,344.30 353.83,342.33 356.00,340.50C358.17,338.67 360.33,336.75 363.00,335.00C365.67,333.25 368.83,331.55 372.00,330.00C375.17,328.45 379.00,326.90 382.00,325.70C385.00,324.50 387.00,323.80 390.00,322.80C393.00,321.80 395.83,320.90 400.00,319.70C404.17,318.50 410.00,316.88 415.00,315.60C420.00,314.32 425.00,313.10 430.00,312.00C435.00,310.90 440.00,309.93 445.00,309.00C450.00,308.07 455.92,307.08 460.00,306.40C464.08,305.72 467.92,305.15 469.50,304.90" fill="none" stroke="url(#disp)" stroke-width="1.1"/>
<path d="M345.50,350.70C346.25,349.92 348.25,347.70 350.00,346.00C351.75,344.30 353.83,342.33 356.00,340.50C358.17,338.67 360.33,336.75 363.00,335.00C365.67,333.25 368.83,331.55 372.00,330.00C375.17,328.45 379.00,326.90 382.00,325.70C385.00,324.50 387.00,323.80 390.00,322.80C393.00,321.80 395.83,320.90 400.00,319.70C404.17,318.50 410.00,316.88 415.00,315.60C420.00,314.32 425.00,313.10 430.00,312.00C435.00,310.90 440.00,309.93 445.00,309.00C450.00,308.07 455.92,307.08 460.00,306.40C464.08,305.72 467.92,305.15 469.50,304.90" fill="none" stroke="url(#dispcore)" stroke-width="0.55"/>
<line x1="324.15" y1="286.25" x2="324.15" y2="287.75" stroke="#bbb" stroke-width="0.5"/>
<line x1="324.15" y1="453.2" x2="324.15" y2="451.7" stroke="#bbb" stroke-width="0.5"/>
<line x1="334.54" y1="286.25" x2="334.54" y2="287.75" stroke="#bbb" stroke-width="0.5"/>
<line x1="334.54" y1="453.2" x2="334.54" y2="451.7" stroke="#bbb" stroke-width="0.5"/>
<line x1="344.94" y1="286.25" x2="344.94" y2="287.75" stroke="#bbb" stroke-width="0.5"/>
<line x1="344.94" y1="453.2" x2="344.94" y2="451.7" stroke="#bbb" stroke-width="0.5"/>
<line x1="355.34" y1="286.25" x2="355.34" y2="287.75" stroke="#bbb" stroke-width="0.5"/>
<line x1="355.34" y1="453.2" x2="355.34" y2="451.7" stroke="#bbb" stroke-width="0.5"/>
<line x1="365.73" y1="286.25" x2="365.73" y2="287.75" stroke="#bbb" stroke-width="0.5"/>
<line x1="365.73" y1="453.2" x2="365.73" y2="451.7" stroke="#bbb" stroke-width="0.5"/>
<line x1="376.13" y1="286.25" x2="376.13" y2="287.75" stroke="#bbb" stroke-width="0.5"/>
<line x1="376.13" y1="453.2" x2="376.13" y2="451.7" stroke="#bbb" stroke-width="0.5"/>
<line x1="386.53" y1="286.25" x2="386.53" y2="287.75" stroke="#bbb" stroke-width="0.5"/>
<line x1="386.53" y1="453.2" x2="386.53" y2="451.7" stroke="#bbb" stroke-width="0.5"/>
<line x1="396.92" y1="286.25" x2="396.92" y2="287.75" stroke="#bbb" stroke-width="0.5"/>
<line x1="396.92" y1="453.2" x2="396.92" y2="451.7" stroke="#bbb" stroke-width="0.5"/>
<line x1="407.32" y1="286.25" x2="407.32" y2="287.75" stroke="#bbb" stroke-width="0.5"/>
<line x1="407.32" y1="453.2" x2="407.32" y2="451.7" stroke="#bbb" stroke-width="0.5"/>
<line x1="417.72" y1="286.25" x2="417.72" y2="287.75" stroke="#bbb" stroke-width="0.5"/>
<line x1="417.72" y1="453.2" x2="417.72" y2="451.7" stroke="#bbb" stroke-width="0.5"/>
<line x1="428.11" y1="286.25" x2="428.11" y2="287.75" stroke="#bbb" stroke-width="0.5"/>
<line x1="428.11" y1="453.2" x2="428.11" y2="451.7" stroke="#bbb" stroke-width="0.5"/>
<line x1="438.51" y1="286.25" x2="438.51" y2="287.75" stroke="#bbb" stroke-width="0.5"/>
<line x1="438.51" y1="453.2" x2="438.51" y2="451.7" stroke="#bbb" stroke-width="0.5"/>
<line x1="448.91" y1="286.25" x2="448.91" y2="287.75" stroke="#bbb" stroke-width="0.5"/>
<line x1="448.91" y1="453.2" x2="448.91" y2="451.7" stroke="#bbb" stroke-width="0.5"/>
<line x1="459.30" y1="286.25" x2="459.30" y2="287.75" stroke="#bbb" stroke-width="0.5"/>
<line x1="459.30" y1="453.2" x2="459.30" y2="451.7" stroke="#bbb" stroke-width="0.5"/>
<rect x="320.10" y="367.90" width="4" height="4" fill="#f32cf3"/>
<rect x="322.50" y="363.50" width="4" height="4" fill="#f32cf3"/>
<rect x="324.80" y="359.30" width="4" height="4" fill="#f32cf3"/>
<rect x="327.20" y="355.40" width="4" height="4" fill="#f32cf3"/>
<rect x="329.50" y="351.50" width="4" height="4" fill="#f32cf3"/>
<rect x="329.00" y="346.80" width="4" height="4" fill="#f32cf3"/>
<rect x="333.40" y="342.10" width="4" height="4" fill="#f32cf3"/>
<rect x="342.40" y="334.20" width="4" height="4" fill="#f32cf3"/>
<rect x="348.20" y="330.00" width="4" height="4" fill="#f32cf3"/>
<rect x="356.00" y="325.80" width="4" height="4" fill="#f32cf3"/>
<rect x="330.70" y="367.90" width="4" height="4" fill="#8fd0f5"/>
<rect x="333.40" y="364.30" width="4" height="4" fill="#8fd0f5"/>
<rect x="334.20" y="360.10" width="4" height="4" fill="#8fd0f5"/>
<rect x="337.30" y="355.40" width="4" height="4" fill="#8fd0f5"/>
<rect x="340.40" y="351.50" width="4" height="4" fill="#8fd0f5"/>
<rect x="340.10" y="346.80" width="4" height="4" fill="#8fd0f5"/>
<rect x="344.00" y="342.10" width="4" height="4" fill="#8fd0f5"/>
<rect x="352.90" y="334.20" width="4" height="4" fill="#8fd0f5"/>
<rect x="358.80" y="330.00" width="4" height="4" fill="#8fd0f5"/>
<rect x="366.20" y="325.80" width="4" height="4" fill="#8fd0f5"/>
<rect x="342.40" y="367.40" width="4" height="4" fill="#ffffff"/>
<rect x="345.90" y="363.50" width="4" height="4" fill="#ffffff"/>
<rect x="350.60" y="359.20" width="4" height="4" fill="#ffffff"/>
<rect x="355.20" y="354.90" width="4" height="4" fill="#ffffff"/>
<rect x="361.20" y="351.50" width="4" height="4" fill="#ffffff"/>
<rect x="359.90" y="346.80" width="4" height="4" fill="#ffffff"/>
<rect x="368.50" y="342.10" width="4" height="4" fill="#ffffff"/>
<rect x="385.50" y="333.75" width="4" height="4" fill="#ffffff"/>
<rect x="397.50" y="329.75" width="4" height="4" fill="#ffffff"/>
<rect x="415.00" y="325.50" width="4" height="4" fill="#ffffff"/>
<text x="320.4" y="316.5" font-size="9.5" font-weight="bold" fill="#f050f0" stroke="#f050f0" stroke-width="0.25" text-anchor="start" >Edge-1</text>
<text x="364.5" y="312.2" font-size="9.5" font-weight="bold" fill="#9ad4f5" stroke="#9ad4f5" stroke-width="0.25" text-anchor="start" >Edge-1′</text>
<text x="430" y="325.9" font-size="9.3" font-weight="bold" fill="#fff" stroke="#fff" stroke-width="0.25" text-anchor="start" >Tip-1</text>
<text x="311.2" y="414.50" font-size="8.3" font-weight="normal" fill="#151515" stroke="#151515" stroke-width="0.15" text-anchor="end" >1350</text>
<text x="311.2" y="393.60" font-size="8.3" font-weight="normal" fill="#151515" stroke="#151515" stroke-width="0.15" text-anchor="end" >1400</text>
<text x="311.2" y="372.70" font-size="8.3" font-weight="normal" fill="#151515" stroke="#151515" stroke-width="0.15" text-anchor="end" >1450</text>
<text x="311.2" y="351.80" font-size="8.3" font-weight="normal" fill="#151515" stroke="#151515" stroke-width="0.15" text-anchor="end" >1500</text>
<text x="311.2" y="330.90" font-size="8.3" font-weight="normal" fill="#151515" stroke="#151515" stroke-width="0.15" text-anchor="end" >1550</text>
<text x="311.2" y="310.00" font-size="8.3" font-weight="normal" fill="#151515" stroke="#151515" stroke-width="0.15" text-anchor="end" >1600</text>
<text x="313.75" y="463.9" font-size="8.2" font-weight="normal" fill="#151515" stroke="#151515" stroke-width="0.15" text-anchor="middle" >0</text>
<text x="365.73" y="463.9" font-size="8.2" font-weight="normal" fill="#151515" stroke="#151515" stroke-width="0.15" text-anchor="middle" >5</text>
<text x="417.72" y="463.9" font-size="8.2" font-weight="normal" fill="#151515" stroke="#151515" stroke-width="0.15" text-anchor="middle" >10</text>
<text x="469.70" y="463.9" font-size="8.2" font-weight="normal" fill="#151515" stroke="#151515" stroke-width="0.15" text-anchor="middle" >15</text>
<text x="391" y="476.6" font-size="9.75" font-weight="bold" fill="#000" stroke="#000" stroke-width="0.25" text-anchor="middle" >HPhP Angular Wavevector, <tspan font-style="italic">q</tspan> (µm<tspan font-size="6.3" dy="-3.5">-1</tspan><tspan dy="3.5">)</tspan></text>
<text transform="translate(288.6,371.8) rotate(-90)" font-size="9.8" font-weight="bold" stroke="#000" stroke-width="0.25" text-anchor="middle">IR Frequency (cm<tspan font-size="6" dy="-3.5">-1</tspan><tspan dy="3.5">)</tspan></text>
<rect x="479.5" y="286.25" width="8.8" height="166.95" fill="url(#hot)" stroke="#999" stroke-width="0.5"/>
<text x="491.3" y="455.40" font-size="8.4" font-weight="normal" fill="#151515" stroke="#151515" stroke-width="0.15" text-anchor="start" >0</text>
<text x="491.3" y="434.53" font-size="8.4" font-weight="normal" fill="#151515" stroke="#151515" stroke-width="0.15" text-anchor="start" >5</text>
<text x="491.3" y="413.66" font-size="8.4" font-weight="normal" fill="#151515" stroke="#151515" stroke-width="0.15" text-anchor="start" >10</text>
<text x="491.3" y="392.79" font-size="8.4" font-weight="normal" fill="#151515" stroke="#151515" stroke-width="0.15" text-anchor="start" >15</text>
<text x="491.3" y="371.93" font-size="8.4" font-weight="normal" fill="#151515" stroke="#151515" stroke-width="0.15" text-anchor="start" >20</text>
<text x="491.3" y="351.06" font-size="8.4" font-weight="normal" fill="#151515" stroke="#151515" stroke-width="0.15" text-anchor="start" >25</text>
<text x="491.3" y="330.19" font-size="8.4" font-weight="normal" fill="#151515" stroke="#151515" stroke-width="0.15" text-anchor="start" >30</text>
<text x="491.3" y="309.32" font-size="8.4" font-weight="normal" fill="#151515" stroke="#151515" stroke-width="0.15" text-anchor="start" >35</text>
<text x="491.3" y="288.45" font-size="8.4" font-weight="normal" fill="#151515" stroke="#151515" stroke-width="0.15" text-anchor="start" >40</text>
<text x="474" y="277.5" font-size="8.3" font-weight="bold" fill="#000" stroke="#000" stroke-width="0.25" text-anchor="start" >Im <tspan font-style="italic">r</tspan><tspan font-style="italic" font-size="6.2" dy="3.2" dx="0.5">p</tspan></text>
</g>
</svg>
</body></html>
